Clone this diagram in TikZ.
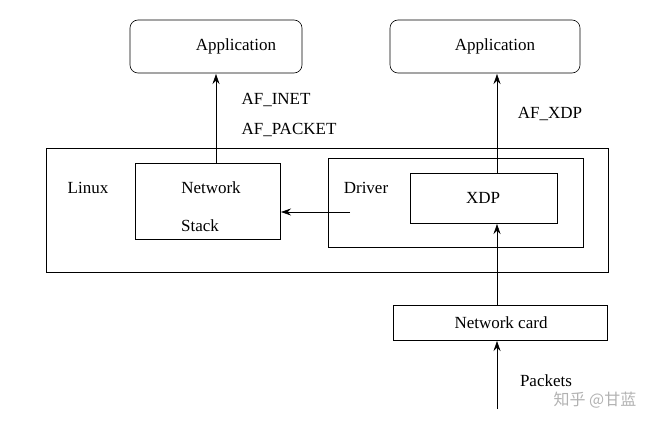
\documentclass[tikz,border=0pt]{standalone}
\usepackage{fontspec}
\setmainfont{Liberation Serif}
\newfontfamily\cjk{Noto Sans CJK SC}
\usetikzlibrary{arrows.meta}
\begin{document}
\begin{tikzpicture}[x=1pt,y=-1pt,
  box/.style={draw,line width=0.6pt},
  lbl/.style={font=\fontsize{17}{19}\selectfont,inner sep=0},
  arr/.style={line width=0.6pt,-{Stealth[length=10pt,width=7pt]}}]
\useasboundingbox (0,0) rectangle (652,425);
\draw[box,rounded corners=8pt] (130,20) rectangle (302,73);
\node[lbl] (app1) at (236,46) {Application};
\coordinate (a1b) at (216,74);
\draw[box,rounded corners=8pt] (390,20) rectangle (580,73);
\node[lbl] (app2) at (495,46) {Application};
\coordinate (a2b) at (497,74);
\draw[box] (46,148) rectangle (608,272);
\node[lbl] (linux) at (88,188) {Linux};
\draw[box] (135,163) rectangle (280,239);
\node[lbl] (net) at (211,188) {Network};
\node[lbl] (stack) at (200,226) {Stack};
\coordinate (nst) at (216,163);
\coordinate (nsr) at (281,212);
\draw[box] (328,158) rectangle (583,247);
\node[lbl] (drv) at (366,188) {Driver};
\coordinate (drvl) at (350,212);
\draw[box] (410,173) rectangle (557,223);
\node[lbl] (xdp) at (483,198) {XDP};
\coordinate (xt) at (497,173);
\coordinate (xb) at (497,224);
\draw[box] (393,305) rectangle (607,340);
\node[lbl] (nc) at (501,323) {Network card};
\coordinate (nct) at (497,305);
\coordinate (ncb) at (497,341);
\coordinate (pin) at (497,409);
\node[lbl] at (276,100) {AF\_INET};
\node[lbl] at (289,130) {AF\_PACKET};
\node[lbl] at (550,114) {AF\_XDP};
\node[lbl] at (546,381) {Packets};
\node[font=\cjk\fontsize{16}{18}\selectfont,text=gray!60,inner sep=0] at (595,400) {知乎 @甘蓝};
\draw[arr] (nst) -- (a1b);
\draw[arr] (xt) -- (a2b);
\draw[arr] (nct) -- (xb);
\draw[arr] (drvl) -- (nsr);
\draw[arr] (pin) -- (ncb);
\end{tikzpicture}
\end{document}
